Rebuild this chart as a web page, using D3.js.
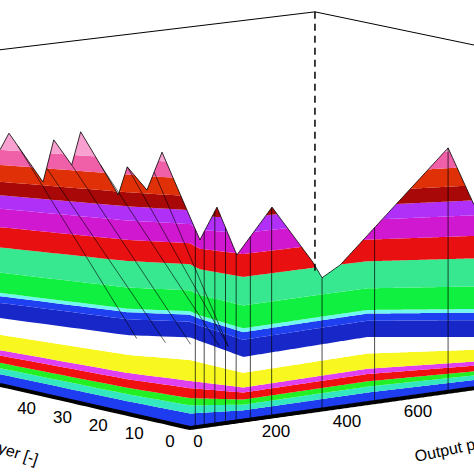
<!DOCTYPE html>
<html><head><meta charset="utf-8">
<script src="https://cdn.jsdelivr.net/npm/d3@7"></script>
<style>body{margin:0;background:#fff}svg{display:block}</style>
</head><body>
<div id="chart"></div>
<script>
// composite horizontal axis: negative = layer [-], positive = output
const profileU = [-53, -50.5, -41, -38, -33, -30.5, -20, -17.5, -12, -7.8, 0, 28, 76, 132, 231, 346, 372, 423, 727, 800];
const profileZ = [68.4, 71.9, 61.6, 70.5, 65.2, 72.2, 58.9, 64.8, 59.9, 67.9, 54.2, 49.4, 56.3, 46.2, 56.3, 44.7, 41.4, 44.1, 68.8, 56.8];
const baseU = [-53, 0, 800];
const baseZ = [18.8, 9.7, 18.1];
const midU = [-53, -17.5, 150, 499, 800];
const midZ = [32.9, 29.3, 24.7, 28.9, 28.9];
const topU = [-53, 28, 346, 800];
const topZ = [68.4, 64.1, 66.2, 68.4];
// band boundaries: 0..1 between base and mid, 1..2 between mid and top
const bandT = [0, .16, .25, .33, .44, .52, .75, 1.0, 1.09, 1.13, 1.15, 1.27, 1.42, 1.54, 1.65, 1.73, 1.81, 1.91, 2.0, 2.6];
const bandColors = ["#1e3cf0", "#33e8c0", "#22f022", "#f01010", "#e040f0", "#f8f820", "#ffffff",
  "#1828c8", "#1e40f0", "#70f8f0", "#10f040", "#38e890", "#e81010", "#d018d0", "#b030f8", "#a80808", "#e03008", "#f060a8", "#f8a0d0"];
const meshU = [15, 40, 70, 100, 130, 170, 230, 372, 520, 727];
const layerTicks = [40, 30, 20, 10, 0];
const outputTicks = [0, 200, 400, 600];

const W = 474, H = 474;
const x = d3.scaleLinear().domain([-53, 0, 800]).range([0, 190, 474]);
const y = d3.scaleLinear().domain([0, 100]).range([H, 0]);
const baseC = d3.scaleLinear().domain(baseU).range(baseZ);
const midC = d3.scaleLinear().domain(midU).range(midZ);
const topC = d3.scaleLinear().domain(topU).range(topZ);
const prof = d3.scaleLinear().domain(profileU).range(profileZ);

function level(u, t) {
  if (t <= 1) return baseC(u) + t * (midC(u) - baseC(u));
  return midC(u) + (t - 1) * (topC(u) - midC(u));
}

const svg = d3.select("#chart").append("svg").attr("width", W).attr("height", H)
  .style("font-family", "Liberation Sans, Arial, sans-serif");

// sample positions: all knots merged
const us = Array.from(new Set([].concat(profileU, baseU, midU, topU, d3.range(-53, 801, 4)))).sort((a, b) => a - b);

svg.append("clipPath").attr("id", "surf").append("path")
  .attr("d", d3.area().x(u => x(u)).y0(u => y(baseC(u))).y1(u => y(prof(u)))(us));

const g = svg.append("g").attr("clip-path", "url(#surf)");
bandColors.forEach((c, i) => {
  g.append("path")
    .attr("fill", c)
    .attr("d", d3.area().x(u => x(u)).y0(u => y(level(u, bandT[i]))).y1(u => y(level(u, bandT[i + 1])))(us));
});

// mesh lines
meshU.forEach(u => {
  svg.append("line").attr("x1", x(u)).attr("x2", x(u))
    .attr("y1", y(prof(u))).attr("y2", y(baseC(u)))
    .attr("stroke", "#000").attr("stroke-width", 0.7);
});
[-48, -40, -33, -25, -17.5, -10].forEach(u => {
  const u2 = Math.min(u + 22, -0.5);
  svg.append("line").attr("x1", x(u)).attr("y1", y(prof(u)))
    .attr("x2", x(u2) + 40).attr("y2", y(level(u2, 0.9)))
    .attr("stroke", "#000").attr("stroke-width", 0.6);
});

// surface outline
svg.append("path").attr("fill", "none").attr("stroke", "#000").attr("stroke-width", 0.8)
  .attr("d", d3.line().x(u => x(u)).y(u => y(prof(u)))(us));
svg.append("path").attr("fill", "none").attr("stroke", "#000").attr("stroke-width", 4)
  .attr("d", d3.line().x(u => x(u)).y(u => y(baseC(u)))(us));

// box frame
svg.append("path").attr("fill", "none").attr("stroke", "#000").attr("stroke-width", 1)
  .attr("d", d3.line()([[x(-53), y(89.5)], [x(352), y(97.5)], [x(800), y(90.5)]]));
svg.append("line").attr("x1", x(352)).attr("x2", x(352)).attr("y1", y(97.5)).attr("y2", y(41.8))
  .attr("stroke", "#000").attr("stroke-width", 1.5).attr("stroke-dasharray", "7,5");

// tick labels
layerTicks.forEach(v => {
  svg.append("text").attr("x", x(-v) - 20).attr("y", y(baseC(-v)) + 19)
    .attr("text-anchor", "middle").attr("font-size", 17).text(v);
});
outputTicks.forEach(v => {
  svg.append("text").attr("x", x(v) + (v === 0 ? 8 : 15)).attr("y", y(baseC(v)) + 19)
    .attr("text-anchor", "middle").attr("font-size", 17).text(v);
});
svg.append("text").attr("transform", "translate(36,465) rotate(18)")
  .attr("text-anchor", "end").attr("font-size", 16).text("Layer [-]");
svg.append("text").attr("transform", "translate(416,462) rotate(-12)")
  .attr("font-size", 16).text("Output power");
</script>
</body></html>
